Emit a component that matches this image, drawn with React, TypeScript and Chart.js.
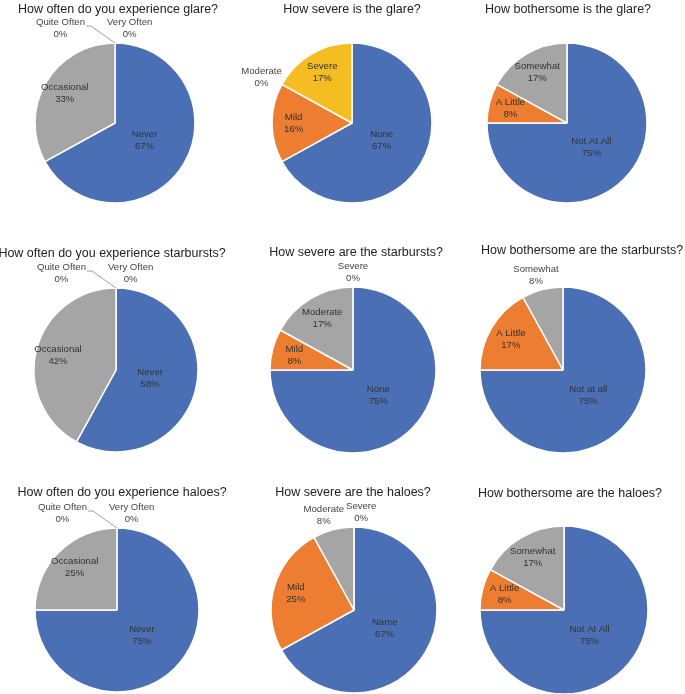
import { useEffect, useRef } from "react";
import { Chart, PieController, ArcElement } from "chart.js";

Chart.register(PieController, ArcElement);

const FONT = '"Liberation Sans", Arial, Helvetica, sans-serif';
const BLUE = "#4A6FB5";
const ORANGE = "#ED7D31";
const GRAY = "#A5A5A5";
const YELLOW = "#F6BD22";
const TITLE_COLOR = "#222222";
const INSIDE_COLOR = "#333333";
const OUTSIDE_COLOR = "#444444";
const LEADER_COLOR = "#A0A0A0";
const LINE = 12;
const PAGE_W = 685;
const PAGE_H = 694;

// Glare
const glareOftenLabels = ["Never", "Occasional", "Quite Often", "Very Often"];
const glareOftenValues = [67, 33, 0, 0];
const glareSevereLabels = ["None", "Mild", "Moderate", "Severe"];
const glareSevereValues = [67, 16, 0, 17];
const glareBotherLabels = ["Not At All", "A Little", "Somewhat"];
const glareBotherValues = [75, 8, 17];

// Starbursts
const starOftenLabels = ["Never", "Occasional", "Quite Often", "Very Often"];
const starOftenValues = [58, 42, 0, 0];
const starSevereLabels = ["None", "Mild", "Moderate", "Severe"];
const starSevereValues = [75, 8, 17, 0];
const starBotherLabels = ["Not at all", "A Little", "Somewhat"];
const starBotherValues = [75, 17, 8];

// Haloes
const haloOftenLabels = ["Never", "Occasional", "Quite Often", "Very Often"];
const haloOftenValues = [75, 25, 0, 0];
const haloSevereLabels = ["Name", "Mild", "Moderate", "Severe"];
const haloSevereValues = [67, 25, 8, 0];
const haloBotherLabels = ["Not At All", "A Little", "Somewhat"];
const haloBotherValues = [75, 8, 17];

const oftenColors = [BLUE, GRAY, ORANGE, YELLOW];
const severeColors = [BLUE, ORANGE, GRAY, YELLOW];
const botherColors = [BLUE, ORANGE, GRAY];

type PanelSpec = {
  title: string;
  labels: string[];
  values: number[];
  colors: string[];
  pie: [number, number, number];
  titleAt: [number, number];
};

const panels: PanelSpec[] = [
  { title: "How often do you experience glare?", labels: glareOftenLabels, values: glareOftenValues, colors: oftenColors, pie: [115, 123, 80], titleAt: [118, 12.7] },
  { title: "How severe is the glare?", labels: glareSevereLabels, values: glareSevereValues, colors: severeColors, pie: [352, 123, 80], titleAt: [352, 12.5] },
  { title: "How bothersome is the glare?", labels: glareBotherLabels, values: glareBotherValues, colors: botherColors, pie: [567, 123, 80], titleAt: [568, 12.5] },
  { title: "How often do you experience starbursts?", labels: starOftenLabels, values: starOftenValues, colors: oftenColors, pie: [116, 370, 82], titleAt: [112, 256.5] },
  { title: "How severe are the starbursts?", labels: starSevereLabels, values: starSevereValues, colors: severeColors, pie: [353, 370, 83], titleAt: [356, 255.7] },
  { title: "How bothersome are the starbursts?", labels: starBotherLabels, values: starBotherValues, colors: botherColors, pie: [563, 370, 83], titleAt: [582, 253.5] },
  { title: "How often do you experience haloes?", labels: haloOftenLabels, values: haloOftenValues, colors: oftenColors, pie: [117, 610, 82], titleAt: [122, 496] },
  { title: "How severe are the haloes?", labels: haloSevereLabels, values: haloSevereValues, colors: severeColors, pie: [354, 610, 83], titleAt: [353, 495.7] },
  { title: "How bothersome are the haloes?", labels: haloBotherLabels, values: haloBotherValues, colors: botherColors, pie: [564, 610, 84], titleAt: [570, 497.3] },
];

type OutsideLabel = {
  l1: string; l2: string; w: number; h: number;
  ax: number; cx: number; cy: number;
  px: number; py: number; leader: boolean;
};

// Draws the title plus the two-line category/percent label of every slice.
const sliceText = {
  id: "sliceText",
  afterDraw(chart: any, _args: any, opts: any) {
    const ctx: CanvasRenderingContext2D = chart.ctx;
    const meta = chart.getDatasetMeta(0);
    const values = chart.data.datasets[0].data as number[];
    const labels = chart.data.labels as string[];
    const total = values.reduce((a, b) => a + b, 0);

    ctx.save();
    ctx.font = `12.5px ${FONT}`;
    ctx.fillStyle = TITLE_COLOR;
    ctx.textAlign = "center";
    ctx.textBaseline = "alphabetic";
    ctx.fillText(opts.title, opts.titleX, opts.titleY);

    ctx.font = `9.6px ${FONT}`;
    ctx.textBaseline = "middle";
    const outside: OutsideLabel[] = [];
    meta.data.forEach((arc: any, i: number) => {
      const p = arc.getProps(["x", "y", "startAngle", "endAngle", "outerRadius"], true);
      const mid = (p.startAngle + p.endAngle) / 2;
      const dx = Math.cos(mid);
      const dy = Math.sin(mid);
      const frac = values[i] / total;
      const fromTop = (((mid + Math.PI / 2) * 180) / Math.PI + 720) % 360;
      const l1 = labels[i];
      const l2 = `${values[i]}%`;
      if (values[i] === 0 || (frac < 0.1 && fromTop > 320)) {
        const w = Math.max(ctx.measureText(l1).width, ctx.measureText(l2).width);
        const h = 2 * LINE;
        const ax = p.x + (p.outerRadius + 3) * dx;
        const ay = p.y + (p.outerRadius + 3) * dy;
        outside.push({
          l1, l2, w, h, ax,
          cx: ax + (dx * w) / 2,
          cy: ay + (dy * h) / 2,
          px: p.x + p.outerRadius * dx,
          py: p.y + p.outerRadius * dy,
          leader: false,
        });
      } else {
        const k = frac > 0.5 ? 0.43 : 0.73;
        const x = p.x + dx * p.outerRadius * k;
        const y = p.y + dy * p.outerRadius * k;
        ctx.fillStyle = INSIDE_COLOR;
        ctx.textAlign = "center";
        ctx.fillText(l1, x, y - LINE / 2);
        ctx.fillText(l2, x, y + LINE / 2);
      }
    });

    // Spread colliding outside labels sideways; a label pushed off its slice gets a leader line.
    for (let i = 1; i < outside.length; i++) {
      const a = outside[i - 1];
      const b = outside[i];
      const hitX = Math.abs(a.cx - b.cx) < (a.w + b.w) / 2 + 2;
      const hitY = Math.abs(a.cy - b.cy) < (a.h + b.h) / 2;
      if (hitX && hitY) {
        const bLeft = b.ax - 8;
        b.cx = bLeft + b.w / 2;
        let aRight = bLeft - 2;
        if (aRight < a.ax) {
          aRight -= 20;
          a.leader = true;
        }
        a.cx = aRight - a.w / 2;
      }
    }

    outside.forEach((o) => {
      ctx.fillStyle = OUTSIDE_COLOR;
      ctx.textAlign = "center";
      ctx.fillText(o.l1, o.cx, o.cy - LINE / 2);
      ctx.fillText(o.l2, o.cx, o.cy + LINE / 2);
      if (o.leader) {
        const right = o.cx + o.w / 2;
        const ly = o.cy - 2;
        ctx.strokeStyle = LEADER_COLOR;
        ctx.lineWidth = 1;
        ctx.beginPath();
        ctx.moveTo(right + 1, ly);
        ctx.lineTo(right + 6, ly);
        ctx.lineTo(o.px, o.py);
        ctx.stroke();
      }
    });
    ctx.restore();
  },
};

const BORDER = 1.5;

function PiePanel({ spec }: { spec: PanelSpec }) {
  const ref = useRef<HTMLCanvasElement | null>(null);
  const [cx, cy, r] = spec.pie;

  useEffect(() => {
    if (!ref.current) return;
    const half = r + BORDER / 2;
    const chart = new Chart(ref.current, {
      type: "pie",
      data: {
        labels: spec.labels,
        datasets: [
          {
            data: spec.values,
            backgroundColor: spec.colors,
            borderColor: "#FFFFFF",
            borderWidth: BORDER,
          },
        ],
      },
      options: {
        responsive: false,
        animation: false,
        events: [],
        layout: {
          padding: {
            left: cx - half,
            right: PAGE_W - (cx + half),
            top: cy - half,
            bottom: PAGE_H - (cy + half),
          },
        },
        plugins: {
          legend: { display: false },
          tooltip: { enabled: false },
          sliceText: {
            title: spec.title,
            titleX: spec.titleAt[0],
            titleY: spec.titleAt[1],
          },
        } as any,
      },
      plugins: [sliceText],
    });
    return () => chart.destroy();
  }, [spec]);

  return (
    <canvas
      ref={ref}
      width={PAGE_W}
      height={PAGE_H}
      style={{ position: "absolute", left: 0, top: 0, width: PAGE_W, height: PAGE_H }}
    />
  );
}

export default function App() {
  return (
    <div
      style={{
        position: "absolute",
        left: 0,
        top: 0,
        width: PAGE_W,
        height: PAGE_H,
        background: "#FFFFFF",
        overflow: "hidden",
      }}
    >
      {panels.map((p) => (
        <PiePanel key={p.title} spec={p} />
      ))}
    </div>
  );
}
